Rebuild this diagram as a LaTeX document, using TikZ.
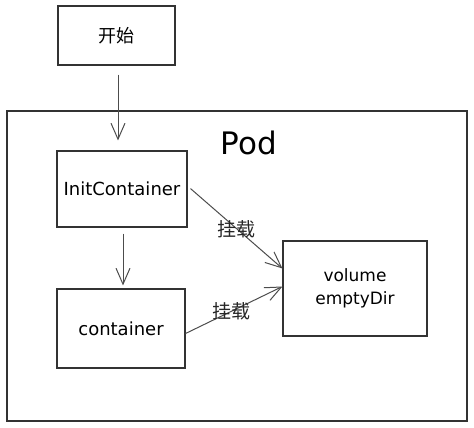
\documentclass[tikz,border=0pt]{standalone}
\usepackage{fontspec}
\setmainfont{DejaVu Sans}
\newfontfamily\cjk{Noto Sans CJK SC}
\usetikzlibrary{arrows.meta}

\begin{document}
\begin{tikzpicture}[x=1pt,y=-1pt,->,>={Straight Barb[length=16pt,width=14pt]}]
\tikzstyle{box} = [rectangle, draw=black!80, line width=1.1pt, inner sep=0pt, font=\fontsize{18}{23}\selectfont, align=center]
\tikzstyle{link} = [draw=black!70, line width=1pt]
\tikzstyle{mount} = [font=\cjk\fontsize{19}{22}\selectfont, text=black!85]
\useasboundingbox (0,0) rectangle (474,428);
\node[box, minimum width=117pt, minimum height=59pt] (start) at (116.5,35.5) {\cjk 开始};
\node[box, minimum width=460pt, minimum height=310pt] (pod) at (237,266) {};
\node[font=\fontsize{31}{34}\selectfont] (podname) at (249,143) {Pod};
\node[box, minimum width=130pt, minimum height=76pt] (init) at (122,189) {InitContainer};
\node[box, minimum width=128pt, minimum height=79pt] (cont) at (121,328.5) {container};
\node[box, minimum width=144pt, minimum height=95pt, font=\fontsize{17}{23}\selectfont] (vol) at (355,288.5) {volume\\emptyDir};
\path ([xshift=1.5pt]start.south) edge[link, shorten <=9pt, shorten >=10pt] ([xshift=-4pt]init.north)
      ([xshift=1pt]init.south) edge[link, shorten <=6pt, shorten >=3pt] ([xshift=2pt]cont.north)
      ([yshift=3pt]init.east) edge[link, shorten <=4pt] node[mount, pos=.52]{挂载} ([yshift=20pt]vol.west)
      ([yshift=-5pt]cont.east) edge[link] node[mount, pos=.47]{挂载} ([yshift=2pt]vol.west);
\end{tikzpicture}
\end{document}
